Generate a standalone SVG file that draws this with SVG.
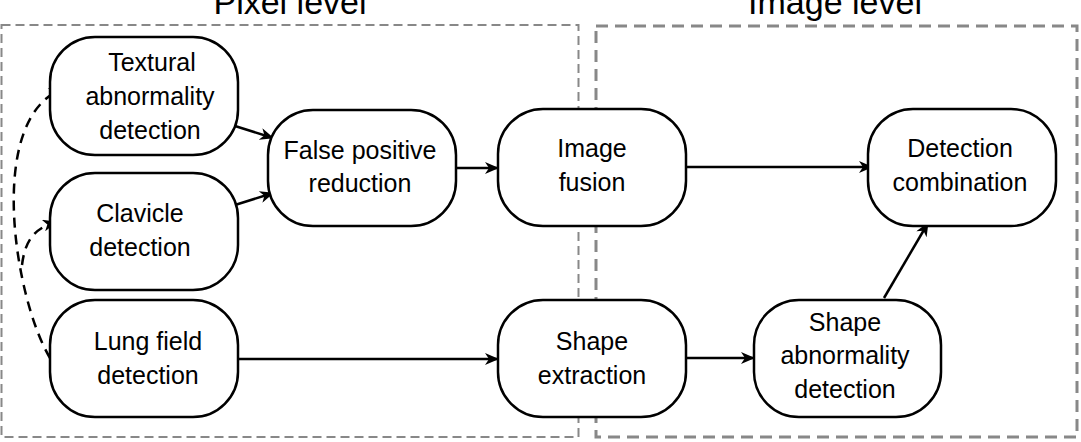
<svg xmlns="http://www.w3.org/2000/svg" width="1081" height="442" viewBox="0 0 1081 442">
<defs>
<marker id="ah" viewBox="0 0 14 12" refX="13" refY="6" markerWidth="15" markerHeight="12" markerUnits="userSpaceOnUse" orient="auto"><path d="M0,0 L14,6 L0,12 L4,6 Z" fill="#000"/></marker>
</defs>
<style>
.n{fill:#fff;stroke:#000;stroke-width:2.5}
.t{font-family:"Liberation Sans",Arial,sans-serif;font-size:25px;text-anchor:middle;fill:#000}
.h{font-family:"Liberation Sans",Arial,sans-serif;font-size:34px;text-anchor:middle;fill:#000}
.c{fill:none;stroke:#000;stroke-width:2.5;marker-end:url(#ah)}
</style>
<rect width="1081" height="442" fill="#fff"/>
<g id="pixel-level">
<rect x="1.5" y="25" width="577" height="412" fill="none" stroke="#888" stroke-width="2" stroke-dasharray="9,5"/>
<text class="h" x="290" y="14">Pixel level</text>
</g>
<g id="image-level">
<rect x="596" y="26" width="481" height="411" fill="none" stroke="#888" stroke-width="3" stroke-dasharray="12,7"/>
<text class="h" x="835" y="14">Image level</text>
</g>
<g id="connectors">
<path class="c" d="M235,126 L273,138"/>
<path class="c" d="M235,205 L273,193"/>
<path class="c" d="M456,168 L498,168"/>
<path class="c" d="M686,167 L872,167"/>
<path class="c" d="M238,359 L498,359"/>
<path class="c" d="M686,358 L754,358"/>
<path class="c" d="M884,298 L928,223" stroke-width="1.5"/>
<path class="c" d="M50,358 C15,300 -15,120 62,89" stroke-dasharray="10,7"/>
<path class="c" d="M22,265 C25,240 35,228 56,222" stroke-dasharray="10,7"/>
</g>
<g id="textural"><rect class="n" x="50" y="37" width="188" height="118" rx="45"/><text class="t" x="152" y="71">Textural</text><text class="t" x="150" y="105">abnormality</text><text class="t" x="150" y="139">detection</text></g>
<g id="clavicle"><rect class="n" x="50" y="173" width="188" height="117" rx="45"/><text class="t" x="140" y="222">Clavicle</text><text class="t" x="140" y="256">detection</text></g>
<g id="lung"><rect class="n" x="50" y="300" width="188" height="117" rx="45"/><text class="t" x="148" y="350">Lung field</text><text class="t" x="148" y="384">detection</text></g>
<g id="fpr"><rect class="n" x="268" y="110" width="188" height="116" rx="45"/><text class="t" x="360" y="159">False positive</text><text class="t" x="360" y="192">reduction</text></g>
<g id="fusion"><rect class="n" x="498" y="109" width="188" height="117" rx="45"/><text class="t" x="592" y="157">Image</text><text class="t" x="592" y="191">fusion</text></g>
<g id="shape-ext"><rect class="n" x="498" y="300" width="188" height="117" rx="45"/><text class="t" x="592" y="350">Shape</text><text class="t" x="592" y="384">extraction</text></g>
<g id="shape-abn"><rect class="n" x="754" y="300" width="187" height="117" rx="45"/><text class="t" x="845" y="331">Shape</text><text class="t" x="845" y="364">abnormality</text><text class="t" x="845" y="398">detection</text></g>
<g id="combination"><rect class="n" x="868" y="109" width="188" height="117" rx="45"/><text class="t" x="960" y="157">Detection</text><text class="t" x="960" y="191">combination</text></g>
</svg>
